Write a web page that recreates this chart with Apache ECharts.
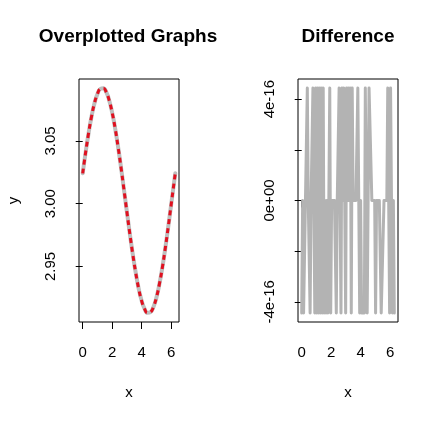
<!DOCTYPE html>
<html>
<head>
<meta charset="utf-8">
<script src="https://cdn.jsdelivr.net/npm/echarts@6/dist/echarts.min.js"></script>
<style>
  html, body { margin: 0; padding: 0; background: #fff; }
  #chart { width: 439px; height: 421px; }
</style>
</head>
<body>
<div id="chart"></div>
<script>
// left panel: the curve
const curveX = [0, 0.2, 0.4, 0.6, 0.8, 1.0, 1.2, 1.4, 1.6, 1.8, 2.0, 2.2, 2.4, 2.6, 2.8, 3.0,
  3.2, 3.4, 3.6, 3.8, 4.0, 4.2, 4.4, 4.6, 4.8, 5.0, 5.2, 5.4, 5.6, 5.8, 6.0, 6.2, 6.283];
const curveY = [3.0242, 3.0410, 3.0563, 3.0695, 3.0801, 3.0875, 3.0915, 3.0920, 3.0889, 3.0823,
  3.0726, 3.0601, 3.0453, 3.0289, 3.0112, 2.9933, 2.9759, 2.9595, 2.9448, 2.9322, 2.9226,
  2.9161, 2.9130, 2.9136, 2.9177, 2.9251, 2.9357, 2.9488, 2.9642, 2.9812, 2.9990, 3.0169, 3.0242];

// right panel: difference, x grid and level (in units of diffStep)
const diffX = [
  0, 0.063, 0.127, 0.190, 0.254, 0.317, 0.381, 0.444, 0.508, 0.571,
  0.635, 0.698, 0.762, 0.825, 0.889, 0.952, 1.016, 1.079, 1.143, 1.206,
  1.269, 1.333, 1.396, 1.460, 1.523, 1.587, 1.650, 1.714, 1.777, 1.841,
  1.904, 1.968, 2.031, 2.095, 2.158, 2.222, 2.285, 2.348, 2.412, 2.475,
  2.539, 2.602, 2.666, 2.729, 2.793, 2.856, 2.920, 2.983, 3.047, 3.110,
  3.174, 3.237, 3.301, 3.364, 3.427, 3.491, 3.554, 3.618, 3.681, 3.745,
  3.808, 3.872, 3.935, 3.999, 4.062, 4.126, 4.189, 4.253, 4.316, 4.380,
  4.443, 4.506, 4.570, 4.633, 4.697, 4.760, 4.824, 4.887, 4.951, 5.014,
  5.078, 5.141, 5.205, 5.268, 5.332, 5.395, 5.459, 5.522, 5.585, 5.649,
  5.712, 5.776, 5.839, 5.903, 5.966, 6.030, 6.093, 6.157, 6.220, 6.283
];
const diffLevel = [
  -1, 0, -1, -1, 0, 0, 1, 0, 0, -1,
  0, 0, 1, 1, -1, 1, -1, 1, -1, 1,
  -1, 1, -1, 1, -1, 0, -1, 0, -1, -1,
  1, -1, 0, 0, 0, 0, 0, -1, 0, 0,
  1, 1, -1, 1, 0, 1, 1, -1, 1, 0,
  1, 0, 1, -1, 1, 0, 0, 0, 0, 0,
  1, 0, -1, 0, -1, -1, -1, -1, 1, 1,
  -1, -1, 1, 1, 1, 0, 0, 0, 0, -1,
  0, 0, 0, 0, 0, -1, -1, -1, 0, 0,
  0, 0, 1, 1, -1, 1, 1, -1, 0, -1
];
const diffStep = 4.440892e-16;

const xTicks = [0, 2, 4, 6];
const yTicksLeft = [2.95, 3.00, 3.05];
const yTicksRight = [-4e-16, -2e-16, 0, 2e-16, 4e-16];
const yLabelsRight = [-4e-16, 0, 4e-16];

const titles = ['Overplotted Graphs', 'Difference'];

const font = 'Liberation Sans, Arial, Helvetica, sans-serif';
const chart = echarts.init(document.getElementById('chart'));

function xAxisFor(gridIndex) {
  return {
    gridIndex: gridIndex,
    type: 'value',
    min: -0.2513,
    max: 6.5345,
    name: 'x',
    nameLocation: 'middle',
    nameGap: 63,
    nameTextStyle: { fontFamily: font, fontSize: 15, color: '#000' },
    axisLine: { show: false },
    splitLine: { show: false },
    axisTick: { show: true, inside: false, length: 7, customValues: xTicks,
      lineStyle: { color: '#000', width: 1 } },
    axisLabel: { show: true, customValues: xTicks, margin: 23,
      fontFamily: font, fontSize: 15, color: '#000' }
  };
}

const titleStyle = { fontFamily: font, fontSize: 19, fontWeight: 'bold', color: '#000' };

const option = {
  animation: false,
  backgroundColor: '#fff',
  title: [
    { text: titles[0], left: 128, top: 27, padding: 0, textAlign: 'center', textStyle: titleStyle },
    { text: titles[1], left: 348, top: 27, padding: 0, textAlign: 'center', textStyle: titleStyle }
  ],
  grid: [
    { left: 79, top: 79, width: 100, height: 243, show: true,
      borderColor: '#000', borderWidth: 1, backgroundColor: 'transparent' },
    { left: 298, top: 79, width: 100, height: 243, show: true,
      borderColor: '#000', borderWidth: 1, backgroundColor: 'transparent' }
  ],
  xAxis: [xAxisFor(0), xAxisFor(1)],
  yAxis: [
    {
      gridIndex: 0,
      type: 'value',
      min: 2.9057,
      max: 3.0994,
      name: 'y',
      nameLocation: 'middle',
      nameGap: 58,
      nameTextStyle: { fontFamily: font, fontSize: 15, color: '#000' },
      axisLine: { show: false },
      splitLine: { show: false },
      axisTick: { show: true, inside: false, length: 7, customValues: yTicksLeft,
        lineStyle: { color: '#000', width: 1 } },
      axisLabel: { show: true, customValues: yTicksLeft, rotate: 90, margin: 21,
        fontFamily: font, fontSize: 15, color: '#000',
        formatter: (v) => v.toFixed(2) }
    },
    {
      gridIndex: 1,
      type: 'value',
      min: -4.796e-16,
      max: 4.796e-16,
      axisLine: { show: false },
      splitLine: { show: false },
      axisTick: { show: true, inside: false, length: 7, customValues: yTicksRight,
        lineStyle: { color: '#000', width: 1 } },
      axisLabel: { show: true, customValues: yLabelsRight, rotate: 90, margin: 21,
        fontFamily: font, fontSize: 15, color: '#000',
        formatter: (v) => (v === 0 ? '0e+00' : (v > 0 ? '4e-16' : '-4e-16')) }
    }
  ],
  series: [
    {
      name: 'curve',
      type: 'line',
      xAxisIndex: 0,
      yAxisIndex: 0,
      data: curveX.map((x, i) => [x, curveY[i]]),
      showSymbol: false,
      smooth: true,
      lineStyle: { color: '#bebebe', width: 4, cap: 'round', join: 'round' }
    },
    {
      name: 'curve overplot',
      type: 'line',
      xAxisIndex: 0,
      yAxisIndex: 0,
      data: curveX.map((x, i) => [x, curveY[i]]),
      showSymbol: false,
      smooth: true,
      lineStyle: { color: '#e0101f', width: 3, type: [5, 4] }
    },
    {
      name: 'difference',
      type: 'line',
      xAxisIndex: 1,
      yAxisIndex: 1,
      data: diffX.map((x, i) => [x, diffLevel[i] * diffStep]),
      showSymbol: false,
      lineStyle: { color: '#b3b3b3', width: 3, cap: 'round', join: 'round' }
    }
  ]
};

chart.setOption(option);
</script>
</body>
</html>
